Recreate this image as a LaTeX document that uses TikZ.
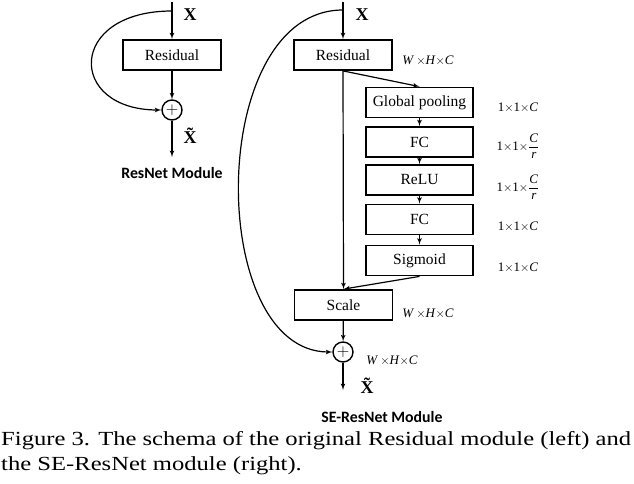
\documentclass[tikz,border=0pt]{standalone}
\usepackage{amsmath}
\usepackage{fontspec}
\setmainfont{Liberation Serif}
\newfontfamily\calibri{Carlito}
\usepackage{tikz}
\usetikzlibrary{arrows}
\usetikzlibrary{arrows.meta}
\usetikzlibrary{calc}
\tikzset{
	edge/.style={->,> = latex', line width=1.2pt},
	block/.style={draw, line width=1.8pt, minimum width=98pt, minimum height=30pt, inner sep=0pt, font=\fontsize{15.5}{18}\selectfont},
	sum/.style={draw, circle, line width=1.4pt, minimum size=20pt, inner sep=0pt, font=\fontsize{16}{18}\selectfont},
	dim/.style={font=\fontsize{13}{15}\selectfont},
	title/.style={font=\calibri\bfseries\fontsize{15.8}{18}\selectfont},
	var/.style={font=\bfseries\fontsize{18}{20}\selectfont},
	caption/.style={anchor=base west, inner sep=0pt, xscale=1.23, font=\fontsize{20}{25}\selectfont}
}
\newcommand{\whc}{\textit{W}\,$\times$\textit{H}$\times$\textit{C}}
\newcommand{\onec}{1$\times$1$\times$\textit{C}}
\newcommand{\onecr}{1$\times$1$\times$$\dfrac{\mbox{\textit{C}}}{\mbox{\textit{r}}}$}

\begin{document}
\begin{tikzpicture}[x=1pt, y=-1pt]
\useasboundingbox (0,0) rectangle (634,484);

% ResNet module
\coordinate (in1) at (172,2);
\coordinate (split1) at (172,11);
\node[block] (res1) at (172,55) {Residual};
\node[sum] (add1) at (172,110) {$+$};
\coordinate (out1) at (172,157);
\node[var] at (190,15) {X};
\node[var] at (190,136) {\~{X}};
\node[title] at (172,173) {ResNet Module};

\draw[edge] (in1) to (res1.north);
\draw[edge] (res1) to (add1);
\draw[edge] (add1) to (out1);
\draw[edge] (split1) .. controls (67,11) and (67,110) .. (add1.west);

% SE-ResNet module
\coordinate (in2) at (343,2);
\coordinate (split2) at (343,10);
\node[block] (res2) at (343,55) {Residual};
\node[block, minimum width=107pt] (pool) at (419.5,102.5) {Global pooling};
\node[block, minimum width=107pt] (fc1) at (419.5,142) {FC};
\node[block, minimum width=107pt] (relu) at (419.5,180) {ReLU};
\node[block, minimum width=107pt] (fc2) at (419.5,219.5) {FC};
\node[block, minimum width=107pt] (sig) at (419.5,260.5) {Sigmoid};
\node[block] (scale) at (343.5,305) {Scale};
\node[sum] (add2) at (343,352) {$+$};
\coordinate (out2) at (343,390);
\node[var] at (362,15) {X};
\node[var] at (367,386) {\~{X}};
\node[title] at (382,417) {SE-ResNet Module};

\node[dim] at (428,61) {\whc};
\node[dim] at (518,108) {\onec};
\node[dim] at (518,146) {\onecr};
\node[dim] at (518,187) {\onecr};
\node[dim] at (518,227) {\onec};
\node[dim] at (518,268) {\onec};
\node[dim] at (428,314) {\whc};
\node[dim] at (392,361) {\whc};

\draw[edge] (in2) to (res2.north);
\draw[edge] (res2.south) to (pool.north);
\draw[edge] (pool) to (fc1);
\draw[edge] (fc1) to (relu);
\draw[edge] (relu) to (fc2);
\draw[edge] (fc2) to (sig);
\draw[edge] (sig.south) to (scale.north);
\draw[edge] (res2.south) to (scale.north);
\draw[edge] (scale) to (add2);
\draw[edge] (add2) to (out2);
\draw[edge] (split2) .. controls (206,10) and (206,352) .. (add2.west);

% caption
\node[caption] (cap1) at (1,445) {Figure 3. The schema of the original Residual module (left) and};
\node[caption] (cap2) at (1,470) {the SE-ResNet module (right).};
\end{tikzpicture}
\end{document}
